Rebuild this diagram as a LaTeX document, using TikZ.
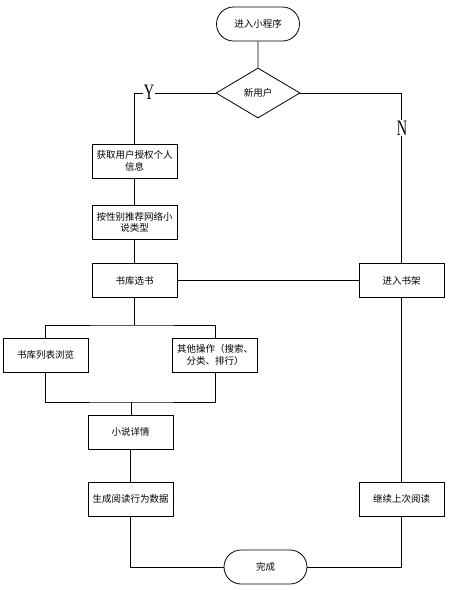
\documentclass[tikz,border=0pt]{standalone}
\usepackage{fontspec}
\setmainfont{Liberation Serif}
\newfontfamily\cjk{Noto Sans CJK SC}
\usetikzlibrary{shapes.geometric,shapes.misc}
\begin{document}
\begin{tikzpicture}[x=1pt,y=-1pt,
  ln/.style={draw,line width=0.8pt},
  box/.style={ln,rectangle,minimum width=85pt,minimum height=34pt,inner sep=1pt,align=center,
    font=\cjk\fontsize{9.5}{11.5}\selectfont},
  term/.style={box,rounded rectangle,minimum width=85pt},
  dec/.style={ln,diamond,minimum width=84pt,minimum height=50pt,inner sep=0pt,
    font=\cjk\fontsize{9.5}{11.5}\selectfont},
  lbl/.style={fill=white,inner sep=1pt,font=\fontsize{22}{22}\selectfont}]
\useasboundingbox[fill=white] (0,0) rectangle (450,590);

\node[term] (start) at (258,24) {进入小程序};
\node[dec] (dec) at (258,93) {新用户};
\node[box] (b1) at (134.5,161) {获取用户授权个人\\信息};
\node[box] (b2) at (134.5,222.5) {按性别推荐网络小\\说类型};
\node[box] (b3) at (134.5,280.5) {书库选书};
\node[box] (shelf) at (401.5,280.5) {进入书架};
\node[box] (b4) at (45.5,355) {书库列表浏览};
\node[box] (b5) at (215,355) {其他操作（搜索、\\分类、排行）};
\node[box] (det) at (130.5,432) {小说详情};
\node[box] (gen) at (130.5,499) {生成阅读行为数据};
\node[box] (cont) at (401.5,499) {继续上次阅读};
\node[term] (end) at (265.5,567) {完成};

\coordinate (sp) at (134.5,325);
\coordinate (mg) at (131.5,402);

\draw[ln] (start) -- (dec);
\draw[ln] (dec.west) -| (b1.north);
\draw[ln] (dec.east) -| (shelf.north);
\node[lbl] (Y) at (149,92) {\scalebox{0.65}[1]{Y}};
\node[lbl] (N) at (402,128) {\scalebox{0.65}[1]{N}};
\draw[ln] (b1) -- (b2);
\draw[ln] (b2) -- (b3);
\draw[ln] (b3) -- (shelf);
\draw[ln] (b3.south) -- (sp);
\draw[ln] (b4.north) |- (sp) -| (b5.north);
\draw[ln] (b4.south) |- (mg) -| (b5.south);
\draw[ln] (mg) -- (mg |- det.north);
\draw[ln] (det) -- (gen);
\draw[ln] (shelf) -- (cont);
\draw[ln] (gen.south) |- (end.west);
\draw[ln] (cont.south) |- (end.east);
\end{tikzpicture}
\end{document}
